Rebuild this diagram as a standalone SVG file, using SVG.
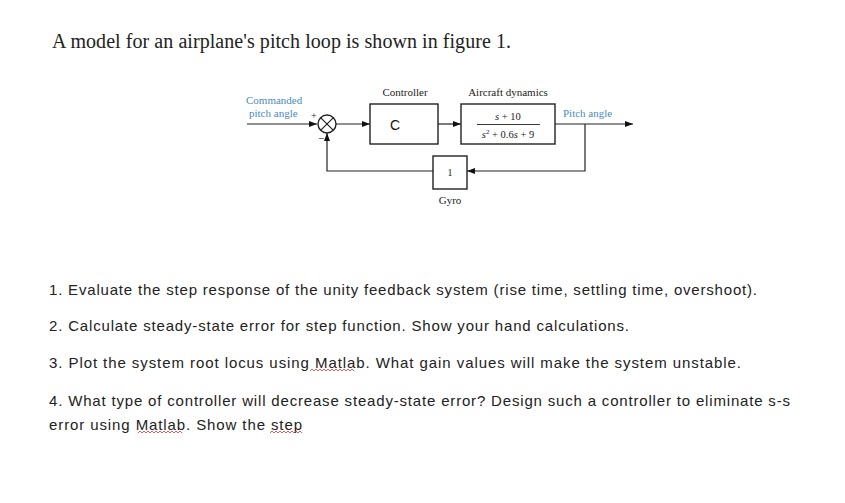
<svg xmlns="http://www.w3.org/2000/svg" width="845" height="503" viewBox="0 0 845 503">
<defs>
<marker id="ar" markerWidth="8" markerHeight="6" refX="8" refY="3" orient="auto" markerUnits="userSpaceOnUse"><path d="M0,0 L8,3 L0,6 Z" fill="#111"/></marker>
<style>
.ser{font-family:"Liberation Serif",serif;fill:#222}
.blue{font-family:"Liberation Serif",serif;fill:#4a8cbf;font-size:11px}
.q{font-family:"Liberation Sans",sans-serif;font-size:15px;fill:#222}
.ln{stroke:#222;stroke-width:1.2;fill:none}
.bx{stroke:#222;stroke-width:1.4;fill:#fff}
.wv{stroke:#d33;stroke-width:0.8;fill:none}
</style>
</defs>
<rect width="845" height="503" fill="#fff"/>
<text class="ser" x="52" y="48" font-size="20" textLength="459">A model for an airplane's pitch loop is shown in figure 1.</text>
<g id="connectors">
<path class="ln" d="M247,124 H317" marker-end="url(#ar)"/>
<path class="ln" d="M336,124 H370" marker-end="url(#ar)"/>
<path class="ln" d="M438,124 H461" marker-end="url(#ar)"/>
<path class="ln" d="M555,124 H633" marker-end="url(#ar)"/>
<path class="ln" d="M585,124 V171 H467" marker-end="url(#ar)"/>
<path class="ln" d="M433,171 H327 V133" marker-end="url(#ar)"/>
</g>
<g id="sum">
<circle class="bx" cx="327" cy="124" r="9"/>
<path class="ln" d="M320.6,117.6 L333.4,130.4 M333.4,117.6 L320.6,130.4"/>
<text class="ser" x="311" y="119" font-size="10">+</text>
<text class="ser" x="318" y="142" font-size="11">−</text>
</g>
<g id="input"><text class="blue" x="246" y="104">Commanded</text><text class="blue" x="249" y="117">pitch angle</text></g>
<g id="controller">
<rect class="bx" x="370" y="104" width="68" height="40"/>
<text class="ser" x="405" y="96" font-size="11" text-anchor="middle">Controller</text>
<text x="390" y="130" font-family="Liberation Sans,sans-serif" font-size="14" fill="#111">C</text>
</g>
<g id="aircraft">
<rect class="bx" x="461" y="104" width="94" height="40"/>
<text class="ser" x="508" y="96" font-size="11" text-anchor="middle">Aircraft dynamics</text>
<text class="ser" x="508" y="120" font-size="10.5" text-anchor="middle"><tspan font-style="italic">s</tspan> + 10</text>
<line x1="477" y1="124.5" x2="540" y2="124.5" stroke="#222" stroke-width="0.9"/>
<text class="ser" x="508" y="138" font-size="10.5" text-anchor="middle"><tspan font-style="italic">s</tspan><tspan dy="-4" font-size="7">2</tspan><tspan dy="4"> + 0.6</tspan><tspan font-style="italic">s</tspan> + 9</text>
</g>
<g id="output"><text class="blue" x="563" y="117">Pitch angle</text></g>
<g id="gyro">
<rect class="bx" x="433" y="156" width="34" height="33"/>
<text class="ser" x="450" y="176" font-size="10" text-anchor="middle">1</text>
<text class="ser" x="450" y="204" font-size="11" text-anchor="middle">Gyro</text>
</g>
<text class="q" x="49" y="295" textLength="708">1. Evaluate the step response of the unity feedback system (rise time, settling time, overshoot).</text>
<text class="q" x="49" y="331" textLength="580">2. Calculate steady-state error for step function. Show your hand calculations.</text>
<text class="q" x="49" y="368" textLength="692">3. Plot the system root locus using Matlab. What gain values will make the system unstable.</text>
<text class="q" x="49" y="406" textLength="741">4. What type of controller will decrease steady-state error? Design such a controller to eliminate s-s</text>
<text class="q" x="49" y="430" textLength="253">error using Matlab. Show the step</text>
<path class="wv" d="M310,371 l2,-2 l2,2 l2,-2 l2,2 l2,-2 l2,2 l2,-2 l2,2 l2,-2 l2,2 l2,-2 l2,2 l2,-2 l2,2 l2,-2 l2,2 l2,-2 l2,2 l2,-2 l2,2 l2,-2 l2,2"/>
<path class="wv" d="M138,433 l2,-2 l2,2 l2,-2 l2,2 l2,-2 l2,2 l2,-2 l2,2 l2,-2 l2,2 l2,-2 l2,2 l2,-2 l2,2 l2,-2 l2,2 l2,-2 l2,2 l2,-2 l2,2 l2,-2 l2,2"/>
<path class="wv" d="M270,433 l2,-2 l2,2 l2,-2 l2,2 l2,-2 l2,2 l2,-2 l2,2 l2,-2 l2,2 l2,-2 l2,2 l2,-2 l2,2 l2,-2 l2,2"/>
</svg>
